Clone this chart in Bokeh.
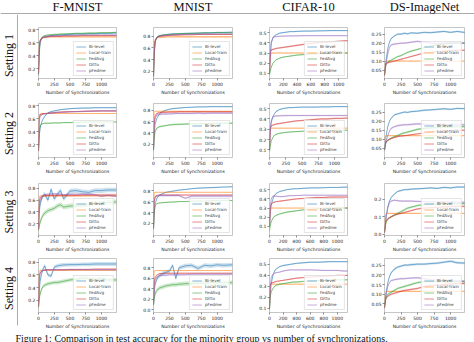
import numpy as np
from bokeh.plotting import figure
from bokeh.layouts import row, column
from bokeh.models import FixedTicker, PrintfTickFormatter, Legend, LegendItem, Range1d
from bokeh.embed import file_html
from bokeh.resources import INLINE
from bokeh.core.properties import value

# ---------------- data ----------------
METHODS = ["Bi-level", "Local-train", "FedAvg", "Ditto", "pFedme"]
COLORS = ["#1f77b4", "#ff7f0e", "#2ca02c", "#d62728", "#9467bd"]
DATASETS = ["F-MNIST", "MNIST", "CIFAR-10", "DS-ImageNet"]
SETTINGS = ["Setting 1", "Setting 2", "Setting 3", "Setting 4"]
XLABEL = "Number of Synchronizations"
CAPTION = "Figure 1: Comparison in test accuracy for the minority group vs number of synchronizations."

# synchronization steps at which accuracy was read
X = [0, 10, 25, 50, 75, 100, 150, 200, 250, 300, 350, 400, 500, 600, 700, 800, 900, 1000, 1100, 1240]

# ---- Setting 1 ----
S1_FMNIST = {
    "Bi-level":    [0.10, 0.40, 0.60, 0.66, 0.68, 0.69, 0.70, 0.71, 0.715, 0.72, 0.72, 0.725, 0.73, 0.735, 0.735, 0.74, 0.74, 0.745, 0.745, 0.75],
    "Local-train": [0.15, 0.55, 0.64, 0.67, 0.68, 0.68, 0.685, 0.69, 0.69, 0.69, 0.69, 0.69, 0.69, 0.69, 0.69, 0.69, 0.69, 0.69, 0.69, 0.69],
    "FedAvg":      [0.10, 0.42, 0.62, 0.68, 0.70, 0.71, 0.72, 0.725, 0.73, 0.73, 0.735, 0.735, 0.74, 0.745, 0.745, 0.75, 0.75, 0.755, 0.755, 0.76],
    "Ditto":       [0.12, 0.50, 0.63, 0.67, 0.68, 0.69, 0.695, 0.70, 0.70, 0.70, 0.70, 0.705, 0.705, 0.705, 0.71, 0.71, 0.71, 0.71, 0.71, 0.71],
    "pFedme":      [0.12, 0.48, 0.62, 0.67, 0.685, 0.69, 0.70, 0.70, 0.705, 0.71, 0.71, 0.71, 0.715, 0.715, 0.72, 0.72, 0.72, 0.72, 0.72, 0.72],
}
S1_MNIST = {
    "Bi-level":    [0.10, 0.45, 0.70, 0.78, 0.80, 0.81, 0.82, 0.83, 0.835, 0.84, 0.84, 0.845, 0.85, 0.85, 0.855, 0.86, 0.86, 0.865, 0.865, 0.87],
    "Local-train": [0.12, 0.60, 0.74, 0.77, 0.78, 0.78, 0.785, 0.79, 0.79, 0.79, 0.79, 0.79, 0.79, 0.79, 0.79, 0.79, 0.79, 0.79, 0.79, 0.79],
    "FedAvg":      [0.10, 0.45, 0.70, 0.78, 0.80, 0.81, 0.82, 0.825, 0.83, 0.835, 0.84, 0.84, 0.845, 0.85, 0.85, 0.855, 0.855, 0.86, 0.86, 0.86],
    "Ditto":       [0.11, 0.50, 0.72, 0.77, 0.79, 0.80, 0.805, 0.81, 0.815, 0.82, 0.82, 0.82, 0.825, 0.825, 0.83, 0.83, 0.83, 0.83, 0.83, 0.83],
    "pFedme":      [0.11, 0.50, 0.71, 0.77, 0.79, 0.80, 0.81, 0.815, 0.82, 0.82, 0.825, 0.83, 0.83, 0.835, 0.835, 0.84, 0.84, 0.84, 0.84, 0.84],
}
S1_CIFAR = {
    "Bi-level":    [0.10, 0.28, 0.40, 0.45, 0.47, 0.48, 0.495, 0.50, 0.505, 0.51, 0.51, 0.512, 0.515, 0.515, 0.517, 0.518, 0.52, 0.52, 0.52, 0.52],
    "Local-train": [0.10, 0.25, 0.30, 0.30, 0.30, 0.30, 0.30, 0.30, 0.30, 0.30, 0.30, 0.30, 0.30, 0.30, 0.30, 0.30, 0.30, 0.30, 0.30, 0.30],
    "FedAvg":      [0.08, 0.12, 0.16, 0.20, 0.22, 0.235, 0.25, 0.26, 0.265, 0.27, 0.275, 0.28, 0.285, 0.29, 0.292, 0.295, 0.297, 0.30, 0.30, 0.30],
    "Ditto":       [0.10, 0.30, 0.33, 0.335, 0.34, 0.345, 0.35, 0.355, 0.36, 0.365, 0.37, 0.375, 0.385, 0.395, 0.40, 0.405, 0.41, 0.415, 0.42, 0.42],
    "pFedme":      [0.10, 0.25, 0.40, 0.45, 0.46, 0.46, 0.465, 0.465, 0.467, 0.467, 0.468, 0.468, 0.47, 0.47, 0.47, 0.47, 0.47, 0.47, 0.47, 0.47],
}
S1_DS = {
    "Bi-level":    [0.02, 0.06, 0.11, 0.17, 0.205, 0.225, 0.24, 0.25, 0.25, 0.255, 0.252, 0.257, 0.255, 0.26, 0.258, 0.262, 0.265, 0.26, 0.265, 0.258],
    "Local-train": [0.02, 0.08, 0.10, 0.10, 0.10, 0.10, 0.10, 0.10, 0.10, 0.10, 0.10, 0.10, 0.10, 0.10, 0.10, 0.10, 0.10, 0.10, 0.10, 0.10],
    "FedAvg":      [0.02, 0.06, 0.085, 0.095, 0.10, 0.105, 0.115, 0.125, 0.13, 0.14, 0.148, 0.155, 0.165, 0.175, 0.185, 0.19, 0.195, 0.20, 0.20, 0.20],
    "Ditto":       [0.02, 0.06, 0.085, 0.09, 0.093, 0.095, 0.10, 0.105, 0.11, 0.115, 0.12, 0.125, 0.135, 0.145, 0.15, 0.153, 0.155, 0.158, 0.16, 0.16],
    "pFedme":      [0.02, 0.05, 0.09, 0.14, 0.175, 0.19, 0.195, 0.197, 0.20, 0.20, 0.202, 0.205, 0.21, 0.205, 0.20, 0.198, 0.20, 0.202, 0.20, 0.20],
}

# ---- Setting 2 ----
S2_FMNIST = {
    "Bi-level":    [0.10, 0.30, 0.45, 0.55, 0.60, 0.64, 0.69, 0.71, 0.72, 0.73, 0.74, 0.745, 0.755, 0.76, 0.765, 0.765, 0.77, 0.77, 0.77, 0.77],
    "Local-train": [0.10, 0.66, 0.67, 0.675, 0.68, 0.68, 0.68, 0.68, 0.68, 0.68, 0.68, 0.68, 0.68, 0.68, 0.68, 0.68, 0.68, 0.68, 0.68, 0.68],
    "FedAvg":      [0.10, 0.35, 0.48, 0.52, 0.525, 0.53, 0.53, 0.53, 0.535, 0.535, 0.535, 0.54, 0.54, 0.545, 0.545, 0.55, 0.55, 0.55, 0.55, 0.55],
    "Ditto":       [0.10, 0.60, 0.66, 0.67, 0.675, 0.68, 0.685, 0.69, 0.695, 0.70, 0.70, 0.705, 0.71, 0.71, 0.715, 0.715, 0.72, 0.72, 0.72, 0.72],
    "pFedme":      [0.10, 0.55, 0.63, 0.66, 0.67, 0.675, 0.68, 0.685, 0.69, 0.695, 0.70, 0.70, 0.705, 0.71, 0.71, 0.715, 0.715, 0.72, 0.72, 0.72],
}
S2_MNIST = {
    "Bi-level":    [0.10, 0.35, 0.55, 0.65, 0.70, 0.74, 0.78, 0.80, 0.815, 0.825, 0.83, 0.835, 0.845, 0.85, 0.855, 0.855, 0.86, 0.86, 0.86, 0.86],
    "Local-train": [0.10, 0.77, 0.78, 0.78, 0.78, 0.78, 0.78, 0.78, 0.78, 0.78, 0.78, 0.78, 0.78, 0.78, 0.78, 0.78, 0.78, 0.78, 0.78, 0.78],
    "FedAvg":      [0.10, 0.30, 0.42, 0.48, 0.50, 0.51, 0.52, 0.53, 0.54, 0.545, 0.55, 0.55, 0.555, 0.56, 0.56, 0.565, 0.565, 0.57, 0.57, 0.57],
    "Ditto":       [0.10, 0.55, 0.70, 0.74, 0.75, 0.755, 0.76, 0.76, 0.765, 0.765, 0.765, 0.77, 0.77, 0.77, 0.77, 0.77, 0.77, 0.77, 0.77, 0.77],
    "pFedme":      [0.10, 0.50, 0.66, 0.71, 0.72, 0.725, 0.73, 0.73, 0.735, 0.735, 0.74, 0.74, 0.74, 0.74, 0.745, 0.74, 0.745, 0.745, 0.745, 0.745],
}
S2_CIFAR = {
    "Bi-level":    [0.10, 0.25, 0.36, 0.42, 0.45, 0.47, 0.49, 0.50, 0.505, 0.51, 0.51, 0.512, 0.515, 0.515, 0.515, 0.517, 0.517, 0.52, 0.52, 0.52],
    "Local-train": [0.10, 0.30, 0.31, 0.31, 0.31, 0.31, 0.31, 0.31, 0.31, 0.31, 0.31, 0.31, 0.31, 0.31, 0.31, 0.31, 0.31, 0.31, 0.31, 0.31],
    "FedAvg":      [0.08, 0.13, 0.18, 0.22, 0.24, 0.25, 0.26, 0.265, 0.27, 0.272, 0.275, 0.277, 0.28, 0.283, 0.285, 0.287, 0.288, 0.29, 0.29, 0.29],
    "Ditto":       [0.10, 0.31, 0.33, 0.34, 0.345, 0.35, 0.355, 0.36, 0.365, 0.37, 0.375, 0.38, 0.385, 0.39, 0.395, 0.40, 0.40, 0.405, 0.405, 0.41],
    "pFedme":      [0.10, 0.28, 0.38, 0.42, 0.425, 0.43, 0.43, 0.432, 0.432, 0.433, 0.433, 0.433, 0.433, 0.433, 0.433, 0.433, 0.433, 0.433, 0.433, 0.433],
}
S2_DS = {
    "Bi-level":    [0.04, 0.07, 0.12, 0.17, 0.20, 0.215, 0.235, 0.24, 0.245, 0.25, 0.248, 0.252, 0.255, 0.26, 0.262, 0.265, 0.268, 0.265, 0.27, 0.268],
    "Local-train": [0.10, 0.115, 0.12, 0.12, 0.12, 0.12, 0.12, 0.12, 0.12, 0.12, 0.12, 0.12, 0.12, 0.12, 0.12, 0.12, 0.12, 0.12, 0.12, 0.12],
    "FedAvg":      [0.04, 0.07, 0.085, 0.095, 0.10, 0.105, 0.115, 0.12, 0.13, 0.135, 0.14, 0.145, 0.155, 0.16, 0.163, 0.165, 0.167, 0.168, 0.17, 0.17],
    "Ditto":       [0.04, 0.07, 0.085, 0.095, 0.10, 0.105, 0.11, 0.115, 0.118, 0.12, 0.122, 0.125, 0.13, 0.135, 0.14, 0.143, 0.145, 0.148, 0.15, 0.15],
    "pFedme":      [0.04, 0.06, 0.09, 0.12, 0.145, 0.16, 0.17, 0.175, 0.178, 0.18, 0.18, 0.182, 0.185, 0.183, 0.18, 0.18, 0.182, 0.18, 0.18, 0.18],
}

# ---- Setting 3 ----
S3_FMNIST = {
    "Bi-level":    [0.10, 0.35, 0.52, 0.62, 0.68, 0.70, 0.60, 0.78, 0.62, 0.70, 0.76, 0.62, 0.75, 0.76, 0.74, 0.73, 0.76, 0.76, 0.77, 0.77],
    "Local-train": [0.10, 0.66, 0.67, 0.67, 0.67, 0.67, 0.67, 0.67, 0.67, 0.67, 0.67, 0.67, 0.67, 0.67, 0.67, 0.67, 0.67, 0.67, 0.67, 0.67],
    "FedAvg":      [0.08, 0.15, 0.22, 0.30, 0.35, 0.38, 0.42, 0.44, 0.46, 0.50, 0.52, 0.48, 0.50, 0.50, 0.51, 0.52, 0.54, 0.55, 0.56, 0.57],
    "Ditto":       [0.10, 0.55, 0.63, 0.66, 0.67, 0.675, 0.68, 0.68, 0.68, 0.68, 0.68, 0.68, 0.68, 0.68, 0.685, 0.685, 0.685, 0.685, 0.685, 0.685],
    "pFedme":      [0.10, 0.45, 0.58, 0.64, 0.67, 0.69, 0.70, 0.70, 0.71, 0.70, 0.70, 0.69, 0.70, 0.70, 0.70, 0.70, 0.69, 0.66, 0.68, 0.66],
}
S3_MNIST = {
    "Bi-level":    [0.10, 0.35, 0.55, 0.65, 0.70, 0.72, 0.75, 0.77, 0.78, 0.79, 0.80, 0.81, 0.82, 0.835, 0.845, 0.85, 0.855, 0.86, 0.865, 0.87],
    "Local-train": [0.10, 0.76, 0.77, 0.77, 0.77, 0.77, 0.77, 0.77, 0.77, 0.77, 0.77, 0.77, 0.77, 0.77, 0.77, 0.77, 0.77, 0.77, 0.77, 0.77],
    "FedAvg":      [0.10, 0.40, 0.52, 0.56, 0.57, 0.575, 0.58, 0.585, 0.59, 0.59, 0.595, 0.60, 0.60, 0.605, 0.61, 0.61, 0.615, 0.615, 0.62, 0.62],
    "Ditto":       [0.10, 0.60, 0.69, 0.71, 0.715, 0.72, 0.72, 0.72, 0.72, 0.72, 0.72, 0.72, 0.72, 0.72, 0.72, 0.72, 0.72, 0.72, 0.72, 0.72],
    "pFedme":      [0.10, 0.55, 0.67, 0.70, 0.705, 0.71, 0.71, 0.71, 0.71, 0.71, 0.71, 0.71, 0.66, 0.70, 0.70, 0.70, 0.70, 0.70, 0.70, 0.70],
}
S3_CIFAR = {
    "Bi-level":    [0.10, 0.22, 0.33, 0.40, 0.44, 0.46, 0.48, 0.49, 0.50, 0.505, 0.51, 0.51, 0.515, 0.52, 0.52, 0.522, 0.525, 0.525, 0.528, 0.53],
    "Local-train": [0.10, 0.30, 0.30, 0.30, 0.30, 0.30, 0.30, 0.30, 0.30, 0.30, 0.30, 0.30, 0.30, 0.30, 0.30, 0.30, 0.30, 0.30, 0.30, 0.30],
    "FedAvg":      [0.05, 0.10, 0.15, 0.19, 0.21, 0.22, 0.235, 0.245, 0.255, 0.26, 0.265, 0.27, 0.28, 0.285, 0.29, 0.295, 0.297, 0.30, 0.30, 0.30],
    "Ditto":       [0.10, 0.30, 0.34, 0.36, 0.365, 0.37, 0.375, 0.38, 0.385, 0.39, 0.395, 0.40, 0.405, 0.41, 0.415, 0.415, 0.42, 0.42, 0.42, 0.42],
    "pFedme":      [0.10, 0.30, 0.40, 0.43, 0.43, 0.43, 0.425, 0.425, 0.43, 0.435, 0.435, 0.437, 0.44, 0.44, 0.44, 0.44, 0.44, 0.44, 0.44, 0.44],
}
S3_DS = {
    "Bi-level":    [0.01, 0.05, 0.10, 0.16, 0.19, 0.21, 0.23, 0.245, 0.25, 0.255, 0.255, 0.258, 0.26, 0.262, 0.265, 0.262, 0.268, 0.265, 0.27, 0.27],
    "Local-train": [0.01, 0.10, 0.12, 0.12, 0.12, 0.12, 0.12, 0.12, 0.12, 0.12, 0.12, 0.12, 0.12, 0.12, 0.12, 0.12, 0.12, 0.12, 0.12, 0.12],
    "FedAvg":      [0.01, 0.04, 0.07, 0.085, 0.095, 0.10, 0.11, 0.12, 0.13, 0.14, 0.15, 0.155, 0.165, 0.17, 0.172, 0.173, 0.175, 0.175, 0.175, 0.175],
    "Ditto":       [0.01, 0.05, 0.08, 0.09, 0.095, 0.10, 0.11, 0.115, 0.12, 0.125, 0.13, 0.135, 0.145, 0.15, 0.152, 0.155, 0.157, 0.158, 0.16, 0.16],
    "pFedme":      [0.01, 0.04, 0.10, 0.15, 0.18, 0.19, 0.195, 0.192, 0.19, 0.19, 0.19, 0.19, 0.188, 0.187, 0.186, 0.185, 0.185, 0.185, 0.183, 0.183],
}

# ---- Setting 4 ----
S4_FMNIST = {
    "Bi-level":    [0.10, 0.30, 0.50, 0.62, 0.70, 0.74, 0.60, 0.58, 0.72, 0.74, 0.75, 0.755, 0.76, 0.76, 0.765, 0.765, 0.77, 0.77, 0.77, 0.77],
    "Local-train": [0.10, 0.65, 0.67, 0.67, 0.67, 0.67, 0.67, 0.67, 0.67, 0.67, 0.67, 0.67, 0.67, 0.67, 0.67, 0.67, 0.67, 0.67, 0.67, 0.67],
    "FedAvg":      [0.08, 0.20, 0.30, 0.38, 0.42, 0.44, 0.46, 0.47, 0.48, 0.48, 0.49, 0.50, 0.52, 0.53, 0.55, 0.54, 0.53, 0.54, 0.52, 0.52],
    "Ditto":       [0.10, 0.55, 0.63, 0.66, 0.67, 0.675, 0.68, 0.68, 0.68, 0.68, 0.68, 0.68, 0.685, 0.685, 0.685, 0.685, 0.69, 0.69, 0.69, 0.69],
    "pFedme":      [0.10, 0.50, 0.62, 0.66, 0.67, 0.675, 0.68, 0.68, 0.68, 0.68, 0.68, 0.68, 0.68, 0.68, 0.68, 0.68, 0.68, 0.68, 0.68, 0.68],
}
S4_MNIST = {
    "Bi-level":    [0.10, 0.30, 0.48, 0.58, 0.63, 0.66, 0.70, 0.72, 0.74, 0.85, 0.60, 0.80, 0.84, 0.85, 0.79, 0.85, 0.84, 0.86, 0.85, 0.86],
    "Local-train": [0.10, 0.74, 0.75, 0.75, 0.75, 0.75, 0.75, 0.75, 0.75, 0.75, 0.75, 0.75, 0.75, 0.75, 0.75, 0.75, 0.75, 0.75, 0.75, 0.75],
    "FedAvg":      [0.08, 0.20, 0.30, 0.37, 0.40, 0.42, 0.44, 0.46, 0.47, 0.48, 0.48, 0.49, 0.50, 0.50, 0.51, 0.51, 0.52, 0.52, 0.52, 0.52],
    "Ditto":       [0.10, 0.50, 0.62, 0.66, 0.68, 0.69, 0.69, 0.70, 0.70, 0.70, 0.70, 0.70, 0.70, 0.70, 0.70, 0.70, 0.70, 0.70, 0.70, 0.70],
    "pFedme":      [0.10, 0.45, 0.58, 0.62, 0.64, 0.65, 0.66, 0.66, 0.67, 0.67, 0.67, 0.67, 0.67, 0.68, 0.68, 0.68, 0.68, 0.68, 0.68, 0.68],
}
S4_CIFAR = {
    "Bi-level":    [0.10, 0.22, 0.32, 0.40, 0.44, 0.46, 0.48, 0.49, 0.495, 0.50, 0.505, 0.51, 0.515, 0.52, 0.52, 0.522, 0.525, 0.525, 0.525, 0.525],
    "Local-train": [0.10, 0.30, 0.32, 0.32, 0.32, 0.32, 0.32, 0.32, 0.32, 0.32, 0.32, 0.32, 0.32, 0.32, 0.32, 0.32, 0.32, 0.32, 0.32, 0.32],
    "FedAvg":      [0.08, 0.20, 0.25, 0.28, 0.30, 0.31, 0.32, 0.325, 0.33, 0.335, 0.34, 0.34, 0.345, 0.35, 0.35, 0.355, 0.355, 0.36, 0.36, 0.36],
    "Ditto":       [0.10, 0.32, 0.33, 0.335, 0.34, 0.345, 0.35, 0.355, 0.36, 0.365, 0.37, 0.375, 0.38, 0.385, 0.39, 0.39, 0.395, 0.40, 0.40, 0.40],
    "pFedme":      [0.10, 0.28, 0.38, 0.41, 0.42, 0.425, 0.43, 0.44, 0.445, 0.45, 0.45, 0.45, 0.45, 0.45, 0.448, 0.445, 0.445, 0.445, 0.44, 0.44],
}
S4_DS = {
    "Bi-level":    [0.03, 0.06, 0.11, 0.16, 0.19, 0.21, 0.23, 0.24, 0.245, 0.25, 0.25, 0.252, 0.255, 0.255, 0.258, 0.26, 0.265, 0.27, 0.262, 0.26],
    "Local-train": [0.03, 0.10, 0.115, 0.115, 0.115, 0.115, 0.115, 0.115, 0.115, 0.115, 0.115, 0.115, 0.115, 0.115, 0.115, 0.115, 0.115, 0.115, 0.115, 0.115],
    "FedAvg":      [0.03, 0.06, 0.085, 0.10, 0.105, 0.11, 0.12, 0.13, 0.135, 0.14, 0.145, 0.15, 0.16, 0.165, 0.165, 0.165, 0.165, 0.165, 0.165, 0.165],
    "Ditto":       [0.03, 0.06, 0.08, 0.09, 0.095, 0.10, 0.105, 0.11, 0.115, 0.12, 0.122, 0.125, 0.13, 0.14, 0.145, 0.148, 0.15, 0.152, 0.155, 0.155],
    "pFedme":      [0.03, 0.06, 0.10, 0.14, 0.16, 0.17, 0.175, 0.178, 0.18, 0.18, 0.182, 0.183, 0.185, 0.18, 0.175, 0.172, 0.17, 0.17, 0.168, 0.168],
}

PANELS = [
    [S1_FMNIST, S1_MNIST, S1_CIFAR, S1_DS],
    [S2_FMNIST, S2_MNIST, S2_CIFAR, S2_DS],
    [S3_FMNIST, S3_MNIST, S3_CIFAR, S3_DS],
    [S4_FMNIST, S4_MNIST, S4_CIFAR, S4_DS],
]
# spread (std) of each method: Bi-level, Local-train, FedAvg, Ditto, pFedme
SPREAD = [
    [[0.01, 0.01, 0.01, 0.01, 0.01], [0.01, 0.015, 0.01, 0.01, 0.01], [0.006, 0.004, 0.006, 0.008, 0.006], [0.005, 0.003, 0.005, 0.004, 0.005]],
    [[0.01, 0.005, 0.01, 0.01, 0.01], [0.01, 0.005, 0.015, 0.015, 0.015], [0.006, 0.004, 0.006, 0.008, 0.008], [0.005, 0.003, 0.006, 0.004, 0.006]],
    [[0.04, 0.005, 0.04, 0.02, 0.01], [0.01, 0.005, 0.01, 0.01, 0.02], [0.006, 0.004, 0.008, 0.008, 0.006], [0.005, 0.003, 0.006, 0.005, 0.005]],
    [[0.03, 0.005, 0.03, 0.01, 0.01], [0.04, 0.005, 0.04, 0.01, 0.02], [0.006, 0.004, 0.006, 0.006, 0.006], [0.006, 0.003, 0.006, 0.005, 0.005]],
]
YLIM = [
    [(0.05, 0.835), (0.075, 0.95), (0.05, 0.55), (0.003, 0.287)],
    [(0.0, 0.835), (-0.03, 0.915), (0.025, 0.55), (0.0, 0.297)],
    [(0.0, 0.88), (-0.02, 0.93), (0.0, 0.568), (-0.006, 0.29)],
    [(0.01, 0.856), (-0.05, 0.98), (0.062, 0.554), (0.006, 0.284)],
]
YTICKS = [
    [[0.2, 0.4, 0.6, 0.8], [0.2, 0.4, 0.6, 0.8], [0.1, 0.2, 0.3, 0.4, 0.5], [0.05, 0.10, 0.15, 0.20, 0.25]],
    [[0.2, 0.4, 0.6, 0.8], [0.2, 0.4, 0.6, 0.8], [0.1, 0.2, 0.3, 0.4, 0.5], [0.05, 0.10, 0.15, 0.20, 0.25]],
    [[0.2, 0.4, 0.6, 0.8], [0.2, 0.4, 0.6, 0.8], [0.1, 0.2, 0.3, 0.4, 0.5], [0.0, 0.1, 0.2]],
    [[0.2, 0.4, 0.6, 0.8], [0.0, 0.2, 0.4, 0.6, 0.8], [0.1, 0.2, 0.3, 0.4, 0.5], [0.05, 0.10, 0.15, 0.20, 0.25]],
]
YFMT = [
    ["%.1f", "%.1f", "%.1f", "%.2f"],
    ["%.1f", "%.1f", "%.1f", "%.2f"],
    ["%.1f", "%.1f", "%.1f", "%.1f"],
    ["%.1f", "%.1f", "%.1f", "%.2f"],
]
XT250 = [0, 250, 500, 750, 1000]
XT200 = [0, 200, 400, 600, 800, 1000]
XTICKS = [
    [XT250, XT250, XT200, XT250],
    [XT250, XT250, XT250, XT250],
    [XT250, XT250, XT200, XT250],
    [XT250, XT250, XT200, XT250],
]
XMAX = [
    [1240, 1240, 1130, 1210],
    [1240, 1240, 1200, 1210],
    [1240, 1240, 1150, 1210],
    [1240, 1240, 1150, 1210],
]

# ---------------- layout (pixels) ----------------
LEFT_W = 18
COL_W = [115, 116, 115, 110]
BORDER_L = 20
BORDER_R = [17, 17, 17, 10]
ROW_H = [83, 79, 78, 77]
BORDER_T = [13, 6, 7, 4]
BORDER_B = [14, 13, 14, 13]
HEAD_H = 14
CAP_H = 11
TOTAL_W = 474

SANS = "DejaVu Sans"
SERIF = "Liberation Serif"
TICK_FS = "4.5px"


def make_panel(r, c):
    p = figure(width=COL_W[c], height=ROW_H[r],
               x_range=Range1d(0, XMAX[r][c]), y_range=Range1d(*YLIM[r][c]),
               output_backend="svg", toolbar_location=None,
               min_border_left=BORDER_L, min_border_right=BORDER_R[c],
               min_border_top=BORDER_T[r], min_border_bottom=BORDER_B[r])
    p.grid.visible = False
    p.outline_line_color = "#b8b8b8"
    p.outline_line_width = 0.8
    p.background_fill_color = "white"
    p.border_fill_color = "white"
    data = PANELS[r][c]
    items = []
    for m, col, sd in zip(METHODS, COLORS, SPREAD[r][c]):
        y = np.array(data[m])
        p.varea(x=X, y1=y - sd, y2=y + sd, fill_color=col, fill_alpha=0.22)
        ln = p.line(X, y, line_color=col, line_width=0.9, line_alpha=0.62)
        items.append(LegendItem(label=m, renderers=[ln]))
    leg = Legend(items=items, location="bottom_right",
                 label_text_font=SANS, label_text_font_size="4.2px",
                 label_height=5, label_standoff=3, glyph_width=10, glyph_height=5,
                 spacing=1, padding=2, margin=2,
                 border_line_color="#cccccc", border_line_width=0.6,
                 background_fill_color="white", background_fill_alpha=0.8)
    p.add_layout(leg)
    for ax in (p.xaxis[0], p.yaxis[0]):
        ax.axis_line_color = None
        ax.major_tick_out = 2
        ax.major_tick_in = 0
        ax.minor_tick_out = 0
        ax.minor_tick_in = 0
        ax.major_tick_line_color = "#444444"
        ax.major_tick_line_width = 0.6
        ax.major_label_text_font = SANS
        ax.major_label_text_font_size = TICK_FS
        ax.major_label_text_color = "#222222"
        ax.major_label_standoff = 1
    p.xaxis.ticker = FixedTicker(ticks=XTICKS[r][c])
    p.yaxis.ticker = FixedTicker(ticks=YTICKS[r][c])
    p.yaxis.formatter = PrintfTickFormatter(format=YFMT[r][c])
    p.xaxis.axis_label = XLABEL
    p.xaxis.axis_label_text_font = SANS
    p.xaxis.axis_label_text_font_size = TICK_FS
    p.xaxis.axis_label_text_font_style = "normal"
    p.xaxis.axis_label_text_color = "#222222"
    p.xaxis.axis_label_standoff = 1
    return p


def blank(width, height, xr, yr):
    f = figure(width=width, height=height, x_range=xr, y_range=yr,
               x_axis_type=None, y_axis_type=None,
               output_backend="svg", toolbar_location=None,
               min_border=0, min_border_left=0, min_border_right=0,
               min_border_top=0, min_border_bottom=0)
    f.grid.visible = False
    f.outline_line_color = None
    f.background_fill_color = "white"
    f.border_fill_color = "white"
    return f


# header with dataset names
header = blank(TOTAL_W, HEAD_H, Range1d(0, TOTAL_W), Range1d(HEAD_H, 0))
centers = []
acc = LEFT_W
for c in range(4):
    plot_w = COL_W[c] - BORDER_L - BORDER_R[c]
    centers.append(acc + BORDER_L + plot_w / 2)
    acc += COL_W[c]
header.text(x=centers, y=[6.5] * 4, text=DATASETS, text_font=value(SERIF),
            text_font_size="12.5px", text_align="center", text_baseline="middle",
            text_color="#111111")
header.segment(x0=[0], y0=[13.5], x1=[TOTAL_W], y1=[13.5], line_color="#555555", line_width=1)

# left column with setting labels
grid_h = sum(ROW_H)
left = blank(LEFT_W, grid_h, Range1d(0, LEFT_W), Range1d(grid_h, 0))
mids = []
acc = 0
for r in range(4):
    plot_h = ROW_H[r] - BORDER_T[r] - BORDER_B[r]
    mids.append(acc + BORDER_T[r] + plot_h / 2)
    acc += ROW_H[r]
left.text(x=[8] * 4, y=mids, text=SETTINGS, angle=np.pi / 2, text_font=value(SERIF),
          text_font_size="12px", text_align="center", text_baseline="middle",
          text_color="#111111")
left.segment(x0=[17.5], y0=[0], x1=[17.5], y1=[grid_h - 6], line_color="#555555", line_width=1)

rows = [row(*[make_panel(r, c) for c in range(4)]) for r in range(4)]
body = row(left, column(*rows))

caption = blank(TOTAL_W, CAP_H, Range1d(0, TOTAL_W), Range1d(CAP_H, 0))
caption.text(x=[15], y=[CAP_H / 2], text=[CAPTION], text_font=value(SERIF),
             text_font_size="10px", text_align="left", text_baseline="middle",
             text_color="#111111")

layout = column(header, body, caption)
open("out.html", "w").write(file_html(layout, INLINE))
